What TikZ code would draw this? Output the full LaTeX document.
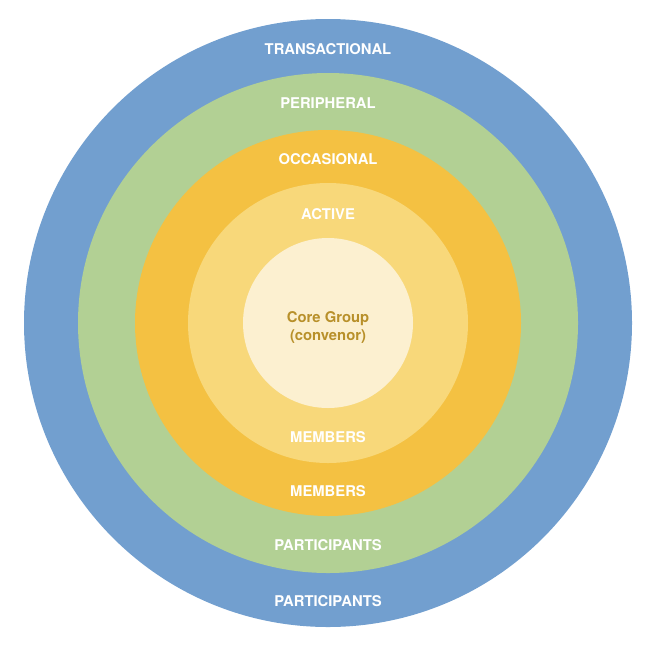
\documentclass[tikz,border=0pt]{standalone}
\usepackage{fontspec}
\setmainfont{TeX Gyre Heros}
\definecolor{cblue}{RGB}{114,159,207}
\definecolor{cgreen}{RGB}{178,208,148}
\definecolor{corange}{RGB}{244,193,66}
\definecolor{clight}{RGB}{248,216,122}
\definecolor{ccore}{RGB}{252,240,208}
\definecolor{ctext}{RGB}{184,144,42}
\tikzset{ring/.style={circle,inner sep=0pt,draw=none},
lbl/.style={font=\bfseries\fontsize{14.8}{17}\selectfont,text=white}}
\begin{document}
\begin{tikzpicture}[x=1pt,y=-1pt]
\useasboundingbox (0,0) rectangle (660,646);
\node[ring,fill=cblue,minimum size=608pt] (c1) at (328,323) {};
\node[ring,fill=cgreen,minimum size=500pt] (c2) at (328,323) {};
\node[ring,fill=corange,minimum size=386pt] (c3) at (328,323) {};
\node[ring,fill=clight,minimum size=280pt] (c4) at (328,323) {};
\node[ring,fill=ccore,minimum size=170pt] (c5) at (328,323) {};
\node[lbl] (t1) at (328,49) {TRANSACTIONAL};
\node[lbl] (t2) at (328,103) {PERIPHERAL};
\node[lbl] (t3) at (328,159) {OCCASIONAL};
\node[lbl] (t4) at (328,214) {ACTIVE};
\node[lbl,text=ctext,align=center] (t5) at (328,327) {Core Group\\[1pt](convenor)};
\node[lbl] (b4) at (328,437) {MEMBERS};
\node[lbl] (b3) at (328,491) {MEMBERS};
\node[lbl] (b2) at (328,545) {PARTICIPANTS};
\node[lbl] (b1) at (328,601) {PARTICIPANTS};
\end{tikzpicture}
\end{document}
